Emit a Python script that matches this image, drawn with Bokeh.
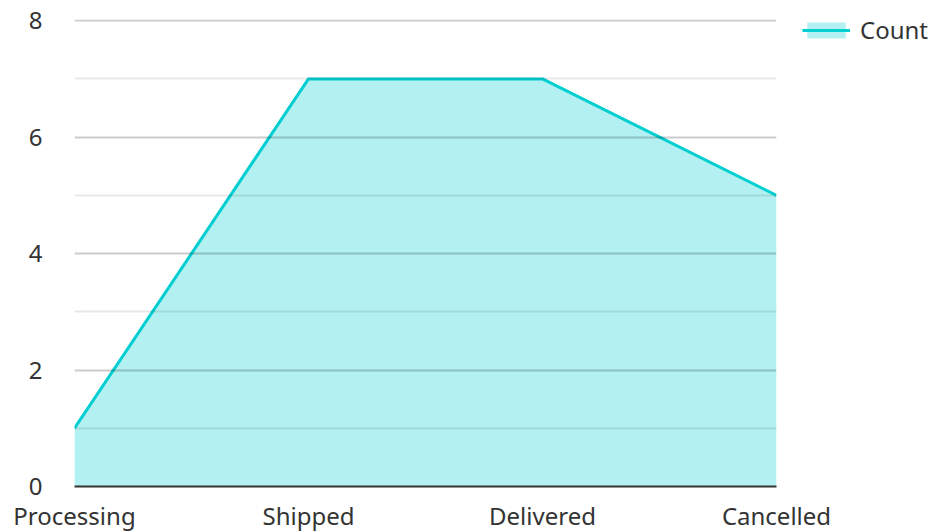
from bokeh.plotting import figure
from bokeh.models import ColumnDataSource, FixedTicker, Legend, LegendItem, Range1d
from bokeh.embed import file_html
from bokeh.resources import INLINE

categories = ["Processing", "Shipped", "Delivered", "Cancelled"]
counts = [1, 7, 7, 5]
x_pos = list(range(len(categories)))
y_ticks = [0, 2, 4, 6, 8]

src = ColumnDataSource(dict(x=x_pos, y=counts, y0=[0] * len(counts)))

FONT = "Noto Sans"
LINE = "#00CED1"

p = figure(frame_width=702, frame_height=467, output_backend="svg", toolbar_location=None,
           x_range=Range1d(0, len(categories) - 1), y_range=Range1d(0, 8.02),
           min_border_left=74, min_border_right=0, min_border_top=19, min_border_bottom=42)
p.outline_line_color = None
p.background_fill_color = "white"

area = p.varea(x="x", y1="y0", y2="y", source=src, fill_color=LINE, fill_alpha=0.3)
area.level = "underlay"
line = p.line(x="x", y="y", source=src, line_color=LINE, line_width=3)

p.xaxis.ticker = FixedTicker(ticks=x_pos)
p.xaxis.major_label_overrides = {i: c for i, c in enumerate(categories)}
p.yaxis.ticker = FixedTicker(ticks=y_ticks, minor_ticks=[1, 3, 5, 7])

for ax in (p.xaxis, p.yaxis):
    ax.major_label_text_font = FONT
    ax.major_label_text_font_size = "24px"
    ax.major_label_text_color = "#333333"
    ax.major_tick_line_color = None
    ax.minor_tick_line_color = None

p.yaxis.axis_line_color = None
p.yaxis.major_label_standoff = 26
p.xaxis.axis_line_color = "#333333"
p.xaxis.axis_line_width = 2
p.xaxis.major_label_standoff = 6

p.xgrid.grid_line_color = None
p.ygrid.grid_line_color = "#000000"
p.ygrid.grid_line_alpha = 0.2
p.ygrid.grid_line_width = 2
p.ygrid.minor_grid_line_color = "#000000"
p.ygrid.minor_grid_line_alpha = 0.09
p.ygrid.minor_grid_line_width = 2
p.ygrid.level = "glyph"

legend = Legend(items=[LegendItem(label="Count", renderers=[area, line])],
                location=(26, 440), border_line_color=None, background_fill_alpha=0,
                label_text_font=FONT, label_text_font_size="24px", label_text_color="#333333",
                glyph_width=48, glyph_height=20, padding=0, spacing=0,
                label_standoff=10)
legend.margin = 0
p.add_layout(legend, "right")

open("out.html", "w").write(file_html(p, INLINE))
